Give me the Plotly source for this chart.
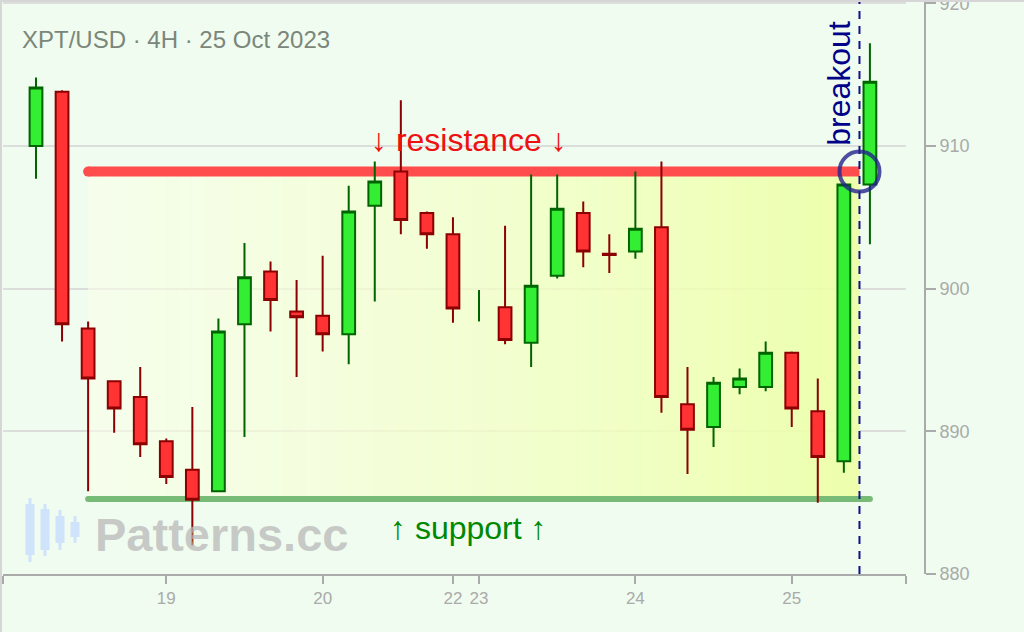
import plotly.graph_objects as go

# ---------------- data ----------------
idx = list(range(33))
opens = [910.0, 913.8, 897.2, 893.5, 892.4, 889.3, 887.3, 885.8, 897.5, 901.2, 898.4, 898.1,
         896.8, 905.8, 908.2, 905.3, 903.8, 898.8, 898.7, 896.2, 900.9, 905.3, 902.45, 902.6,
         904.3, 891.9, 890.3, 893.1, 893.1, 895.5, 891.4, 887.9, 907.3]
highs = [914.8, 913.9, 897.7, 893.5, 894.5, 889.5, 891.7, 897.9, 903.2, 901.9, 900.6, 902.3,
         907.2, 908.9, 913.2, 905.4, 905.0, 899.9, 904.4, 908.0, 908.0, 906.1, 903.8, 908.2,
         908.9, 894.5, 893.8, 894.4, 896.3, 895.6, 893.7, 907.3, 917.2]
lows = [907.7, 896.3, 885.8, 889.9, 888.2, 886.3, 882.0, 885.8, 889.6, 897.0, 893.8, 895.6,
        894.7, 899.1, 903.8, 902.8, 897.6, 897.7, 896.1, 894.5, 900.7, 901.5, 901.1, 902.1,
        891.3, 887.0, 888.9, 892.6, 892.8, 890.3, 885.0, 887.1, 903.1]
closes = [914.1, 897.5, 893.7, 891.6, 889.1, 886.8, 885.2, 897.0, 900.8, 899.2, 898.0, 896.8,
          905.4, 907.5, 904.8, 903.8, 898.6, 898.8, 896.4, 900.2, 905.6, 902.6, 902.35, 904.2,
          892.4, 890.1, 893.4, 893.7, 895.5, 891.6, 888.2, 907.3, 914.5]

tick_pos = [5, 11, 16, 17, 23, 29]
tick_labels = ["19", "20", "22", "23", "24", "25"]
y_ticks = [880, 890, 900, 910, 920]

resistance = 908.2
support = 885.25
pattern_start = 2
breakout_x = 31.6
support_end = 32

title_text = "XPT/USD · 4H · 25 Oct 2023"

# ---------------- geometry helpers (decoration only) ----------------
W, H = 1024, 632
ML, MR, MT, MB = 3, 99, 0, 58
PW, PH = W - ML - MR, H - MT - MB
X_RANGE = [-1.266, 33.385]
Y_RANGE = [880, 880 + PH / 14.27]


def px(xp):
    return (xp - ML) / PW


def py(yp):
    return (MT + PH - yp) / PH


FONT = "Liberation Sans, Arial, sans-serif"

fig = go.Figure()

# candles (bodyless doji drawn as wick only)
doji = [o == c for o, c in zip(opens, closes)]
fig.add_trace(go.Candlestick(
    x=idx,
    open=[None if d else v for v, d in zip(opens, doji)],
    high=[None if d else v for v, d in zip(highs, doji)],
    low=[None if d else v for v, d in zip(lows, doji)],
    close=[None if d else v for v, d in zip(closes, doji)],
    increasing=dict(fillcolor="#33ee33", line=dict(color="#006400", width=2)),
    decreasing=dict(fillcolor="#ff3333", line=dict(color="#8b0000", width=2)),
    whiskerwidth=0, showlegend=False, hoverinfo="skip"))
wx, wy = [], []
for i, d in enumerate(doji):
    if d:
        wx += [idx[i], idx[i], None]
        wy += [lows[i], highs[i], None]
fig.add_trace(go.Scatter(x=wx, y=wy, mode="lines", line=dict(color="#006400", width=2),
                         hoverinfo="skip", showlegend=False))

shapes = []

# pattern zone: horizontal gradient built from thin slices (drawn between grid and traces)
c0 = (251, 255, 232, 0.55)
c1 = (236, 255, 165, 0.90)
N = 60
for k in range(N):
    t = k / (N - 1)
    col = "rgba(%d,%d,%d,%.3f)" % tuple(
        [round(c0[j] + (c1[j] - c0[j]) * t) for j in range(3)] + [c0[3] + (c1[3] - c0[3]) * t])
    xa = pattern_start + (breakout_x - pattern_start) * k / N
    xb = pattern_start + (breakout_x - pattern_start) * (k + 1) / N
    shapes.append(dict(type="rect", layer="between", xref="x", yref="y", x0=xa, x1=xb + 0.02,
                       y0=support, y1=resistance, fillcolor=col, line=dict(width=0)))

# resistance / support lines with round ends
for (xs, xe, yv, col, w) in [(pattern_start, breakout_x, resistance, "#ff4d4d", 10),
                             (pattern_start, support_end, support, "#77bb77", 6)]:
    shapes.append(dict(type="line", layer="between", xref="x", yref="y", x0=xs, x1=xe,
                       y0=yv, y1=yv, line=dict(color=col, width=w)))
    shapes.append(dict(type="circle", layer="between", xref="x", yref="y", xsizemode="pixel",
                       ysizemode="pixel", xanchor=xs, yanchor=yv, x0=-w / 2, x1=w / 2,
                       y0=-w / 2, y1=w / 2, fillcolor=col, line=dict(width=0)))
    if col == "#77bb77":
        shapes.append(dict(type="circle", layer="between", xref="x", yref="y", xsizemode="pixel",
                           ysizemode="pixel", xanchor=xe, yanchor=yv, x0=-w / 2, x1=w / 2,
                           y0=-w / 2, y1=w / 2, fillcolor=col, line=dict(width=0)))

shapes += [
    # breakout dashed line
    dict(type="line", xref="x", yref="paper", x0=breakout_x, x1=breakout_x, y0=0, y1=1,
         line=dict(color="#10108a", width=2, dash="8px,7px")),
    # breakout circle
    dict(type="circle", xref="x", yref="y", xsizemode="pixel", ysizemode="pixel",
         xanchor=breakout_x, yanchor=resistance, x0=-20, x1=20, y0=-20, y1=20,
         line=dict(color="rgba(35,35,140,0.8)", width=4)),
    # frame edges
    dict(type="line", xref="paper", yref="paper", x0=px(0), x1=px(W), y0=py(1), y1=py(1),
         line=dict(color="#d6d6d6", width=2)),
    dict(type="line", xref="paper", yref="paper", x0=px(1), x1=px(1), y0=py(0), y1=py(H),
         line=dict(color="#d6d6d6", width=2)),
]

# logo icon (light blue mini candles)
icon = [(30, 498, 562, 504, 555), (45, 504, 556, 509, 550), (60, 510, 550, 516, 543), (75, 516, 543, 522, 537)]
for cx, wt, wb, bt, bb in icon:
    shapes.append(dict(type="line", xref="paper", yref="paper", x0=px(cx), x1=px(cx),
                       y0=py(wt), y1=py(wb), line=dict(color="#cfe3fb", width=3)))
    shapes.append(dict(type="rect", xref="paper", yref="paper", x0=px(cx - 4.5), x1=px(cx + 4.5),
                       y0=py(bt), y1=py(bb), fillcolor="#cfe3fb", line=dict(width=0)))

annotations = [
    dict(text=title_text, xref="paper", yref="paper", x=px(20), y=py(40), xanchor="left",
         yanchor="middle", showarrow=False, font=dict(family=FONT, size=24, color="#7b867b")),
    dict(text="<b>Patterns.cc</b>", xref="paper", yref="paper", x=px(93), y=py(534), xanchor="left",
         yanchor="middle", showarrow=False, font=dict(family=FONT, size=47, color="rgba(185,185,185,0.75)")),
    dict(text="↓ resistance ↓", xref="x", yref="y", x=16.6, y=910.4, showarrow=False,
         xanchor="center", yanchor="middle", font=dict(family=FONT, size=32, color="#ee1111")),
    dict(text="↑ support ↑", xref="x", yref="y", x=16.6, y=883.2, showarrow=False,
         xanchor="center", yanchor="middle", font=dict(family=FONT, size=32, color="#008800")),
    dict(text="breakout", xref="x", yref="y", x=30.8, y=914.4, showarrow=False, textangle=-90,
         xanchor="center", yanchor="middle", font=dict(family=FONT, size=32, color="#000088")),
]

fig.update_layout(
    width=W, height=H,
    margin=dict(l=ML, r=MR, t=MT, b=MB, pad=0, autoexpand=False),
    paper_bgcolor="#effcef", plot_bgcolor="rgba(0,0,0,0)",
    font=dict(family=FONT),
    shapes=shapes, annotations=annotations,
    xaxis=dict(range=X_RANGE, domain=[0, (906 - ML) / PW], rangeslider=dict(visible=False),
               automargin=False,
               tickmode="array", tickvals=[X_RANGE[0] + 0.01] + tick_pos + [X_RANGE[1] - 0.01],
               ticktext=[""] + tick_labels + [""],
               showgrid=False, zeroline=False, showline=True, linecolor="#aaaaaa", linewidth=2,
               ticks="outside", ticklen=8, tickwidth=2, tickcolor="#aaaaaa",
               tickfont=dict(size=17, color="#aaaaaa", family=FONT)),
    yaxis=dict(range=Y_RANGE, side="right", anchor="free", position=1.0, automargin=False,
               tickmode="array", tickvals=y_ticks, ticklabeloverflow="allow",
               showgrid=True, gridcolor="#dcdedc", gridwidth=1.5, zeroline=False,
               showline=True, linecolor="#aaaaaa", linewidth=2,
               ticks="outside", ticklen=10, tickwidth=2, tickcolor="#aaaaaa",
               tickfont=dict(size=18, color="#aaaaaa", family=FONT)),
)

fig.write_html("out.html", config={"displayModeBar": False},
               post_script="document.body.style.margin='0';document.body.style.padding='0';"
                           "document.body.style.overflow='hidden';")
